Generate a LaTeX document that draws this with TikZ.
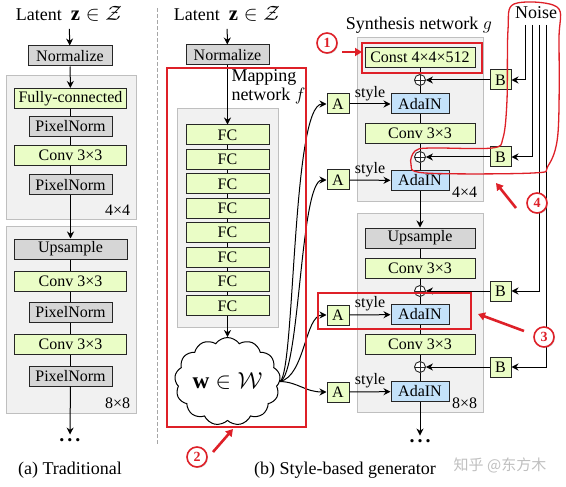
\RequirePackage{fix-cm}
\documentclass[tikz,border=0pt]{standalone}
\usepackage{amsmath}
\usepackage{graphicx}
\usepackage{fontspec}
\setmainfont{Liberation Serif}
\newfontfamily\cjkfont{Noto Sans CJK SC}
\usetikzlibrary{positioning,shapes.symbols,arrows.meta,shadows}

\definecolor{fcgreen}{RGB}{234,253,198}
\definecolor{adablue}{RGB}{196,226,250}
\definecolor{normgray}{RGB}{214,214,214}
\definecolor{panelgray}{RGB}{241,241,241}
\definecolor{markred}{RGB}{222,32,40}

\newcommand{\latentz}{\scalebox{1.15}{$\mathbf{z}\in\mathcal{Z}$}}
\newcommand{\latentw}{\scalebox{1.45}{$\mathbf{w}\in\mathcal{W}$}}

\tikzset{
  base/.style={draw=black!85, line width=1pt, inner sep=0pt, minimum height=20},
  normbox/.style={base, fill=normgray, minimum width=84},
  widebox/.style={base, fill=fcgreen, minimum width=112},
  fcbox/.style={base, fill=fcgreen, minimum width=83},
  adabox/.style={base, fill=adablue, minimum width=58},
  smallbox/.style={base, fill=fcgreen, minimum width=22},
  panel/.style={draw=black!25, fill=panelgray, line width=1pt},
  plus/.style={draw=black!85, fill=white, circle, line width=0.9pt, minimum size=11, inner sep=0pt,
    path picture={\draw[line width=0.8pt] (path picture bounding box.north) -- (path picture bounding box.south)
      (path picture bounding box.west) -- (path picture bounding box.east);}},
  bigtext/.style={font=\fontsize{18}{19.5}\selectfont},
  latent/.style={bigtext, inner ysep=7pt},
  dots/.style={font=\fontsize{20}{20}\selectfont\bfseries},
  redframe/.style={draw=markred, line width=2pt},
  redarrow/.style={markred, line width=2.6pt, -{Triangle[length=7pt,width=8pt]}},
  marknum/.style={circle, draw=markred, fill=white, line width=1.6pt, text=markred,
    font=\fontsize{14}{16}\selectfont\bfseries, minimum size=20, inner sep=0pt,
    drop shadow={opacity=0.3, shadow xshift=1pt, shadow yshift=-1pt}},
}

\begin{document}
\begin{tikzpicture}[x=1pt, y=-1pt, line width=1pt, >={Stealth[length=7pt,width=7pt]},
    every node/.style={font=\fontsize{16}{19}\selectfont}]
  \useasboundingbox (0,0) rectangle (566,487);

  % background panels
  \filldraw[panel] (6,76) rectangle (136,219);
  \filldraw[panel] (6,226) rectangle (136,413);
  \filldraw[panel] (177,109) rectangle (278,327);
  \filldraw[panel] (357,38) rectangle (483,202);
  \filldraw[panel] (357,213) rectangle (483,412);
  \draw[black!35, dash pattern=on 4pt off 2pt] (157,8) -- (157,445);

  % (a) traditional
  \node[latent] (latA) at (69,14) {Latent \ \latentz};
  \node[normbox] (normA) at (70,56) {Normalize};
  \node[widebox] (fcA) at (70.5,98.5) {Fully-connected};
  \node[normbox, minimum width=83] (pnA1) at (70.5,126.5) {PixelNorm};
  \node[widebox] (convA1) at (70.5,155.5) {Conv 3×3};
  \node[normbox, minimum width=83] (pnA2) at (70.5,185) {PixelNorm};
  \node[anchor=east] (resA1) at (134,210) {4×4};
  \node[normbox, minimum width=113] (upA) at (70.5,249) {Upsample};
  \node[widebox] (convA2) at (70.5,281.5) {Conv 3×3};
  \node[normbox, minimum width=83] (pnA3) at (70.5,312.5) {PixelNorm};
  \node[widebox] (convA3) at (70.5,344.5) {Conv 3×3};
  \node[normbox, minimum width=83] (pnA4) at (70.5,376) {PixelNorm};
  \node[anchor=east] (resA2) at (134,403) {8×8};
  \node[dots] (dotsA) at (70,440) {.\hspace{3pt}.\hspace{3pt}.};
  \node[bigtext] (capA) at (70,470) {(a) Traditional};

  \draw[->] (latA) -- (normA);
  \draw[->] (normA) -- (fcA);
  \draw (fcA) -- (pnA1) (pnA1) -- (convA1) (convA1) -- (pnA2);
  \draw[->] (pnA2) -- (upA);
  \draw (upA) -- (convA2) (convA2) -- (pnA3) (pnA3) -- (convA3) (convA3) -- (pnA4);
  \draw[->] (pnA4) -- (dotsA);

  % (b) mapping network
  \node[latent] (latB) at (227,14) {Latent \ \latentz};
  \node[normbox, minimum width=83] (normB) at (227.5,55) {Normalize};
  \node[bigtext, anchor=north west, align=left, inner sep=0pt] (mapT) at (231,69) {Mapping\\network $f$};
  \foreach \i in {1,...,8}
    \node[fcbox] (fc\i) at (227.5,110.6+24.4*\i) {FC};
  \node[cloud, draw, cloud puffs=13, cloud puff arc=110, aspect=1.27, fill=white,
        minimum width=100, minimum height=79, inner sep=0pt] (w) at (227.5,381.5) {\latentw};
  \node[smallbox] (A1) at (338,104) {A};
  \node[smallbox] (A2) at (338,180) {A};
  \node[smallbox] (A3) at (338,315) {A};
  \node[smallbox] (A4) at (338,392) {A};

  \draw[->] (latB) -- (normB);
  \draw[->] (normB) -- (fc1);
  \foreach \i [count=\j from 2] in {1,...,7}
    \draw (fc\i) -- (fc\j);
  \draw[->] (fc8) -- (w);
  \draw[->] (w.east) .. controls (295,372) and (292,104) .. (A1.west);
  \draw[->] (w.east) .. controls (300,374) and (300,180) .. (A2.west);
  \draw[->] (w.east) .. controls (305,376) and (305,315) .. (A3.west);
  \draw[->] (w.east) .. controls (298,382) and (305,392) .. (A4.west);

  % (b) synthesis network
  \node[bigtext] (synT) at (419,25) {Synthesis network $g$};
  \node[bigtext] (noiseT) at (536,13) {Noise};
  \node[widebox, minimum width=110] (const) at (420,57.5) {Const 4×4×512};
  \node[plus] (p1) at (420,80) {};
  \node[adabox] (ada1) at (420,104) {AdaIN};
  \node[widebox, minimum width=110] (convS1) at (420,133.5) {Conv 3×3};
  \node[plus] (p2) at (420,157) {};
  \node[adabox] (ada2) at (420,180.5) {AdaIN};
  \node[anchor=east] (resB1) at (481,192) {4×4};
  \node[normbox, minimum width=110] (upS) at (420,238) {Upsample};
  \node[widebox, minimum width=110] (convS2) at (420,268) {Conv 3×3};
  \node[plus] (p3) at (420,291) {};
  \node[adabox] (ada3) at (420,314.5) {AdaIN};
  \node[widebox, minimum width=110] (convS3) at (420,344.5) {Conv 3×3};
  \node[plus] (p4) at (420,367) {};
  \node[adabox] (ada4) at (420,391.5) {AdaIN};
  \node[anchor=east] (resB2) at (481,403) {8×8};
  \node[dots] (dotsB) at (420,441) {.\hspace{3pt}.\hspace{3pt}.};
  \node[bigtext] (capB) at (345,470) {(b) Style-based generator};
  \node[font=\cjkfont\fontsize{15}{16}\selectfont, text=black!25] (mark) at (500,465) {知乎 @东方木};

  \node[smallbox, minimum width=21] (B1) at (500.5,80) {B};
  \node[smallbox, minimum width=21] (B2) at (500.5,157) {B};
  \node[smallbox, minimum width=21] (B3) at (500.5,291) {B};
  \node[smallbox, minimum width=21] (B4) at (500.5,367) {B};
  \coordinate (nz1) at (525,25);
  \coordinate (nz2) at (532,25);
  \coordinate (nz3) at (539,25);
  \coordinate (nz4) at (546,25);

  \draw (const) -- (p1) (p1) -- (ada1) (ada1) -- (convS1) (convS1) -- (p2) (p2) -- (ada2);
  \draw[->] (ada2) -- (upS);
  \draw (upS) -- (convS2) (convS2) -- (p3) (p3) -- (ada3) (ada3) -- (convS3) (convS3) -- (p4) (p4) -- (ada4);
  \draw[->] (ada4) -- (dotsB);
  \draw[->] (A1) -- node[above=2pt, inner sep=1pt] {style} (ada1);
  \draw[->] (A2) -- node[above=2pt, inner sep=1pt] {style} (ada2);
  \draw[->] (A3) -- node[above=2pt, inner sep=1pt] {style} (ada3);
  \draw[->] (A4) -- node[above=2pt, inner sep=1pt] {style} (ada4);
  \draw[->] (B1) -- (p1);
  \draw[->] (B2) -- (p2);
  \draw[->] (B3) -- (p3);
  \draw[->] (B4) -- (p4);
  \draw[->] (nz1) |- (B1);
  \draw[->] (nz2) |- (B2);
  \draw[->] (nz3) |- (B3);
  \draw[->] (nz4) |- (B4);

  % red marks
  \draw[redframe] (362,43) rectangle (482,73);
  \draw[redframe] (167,68) rectangle (306,427);
  \draw[redframe] (318,293) rectangle (471,329);
  \draw[markred, line width=1.3pt] plot[smooth cycle, tension=0.55] coordinates
    {(514,4) (557,7) (559,40) (558,133) (548,166) (533,173) (425,173) (411,164)
     (415,151) (430,148) (492,148) (503,138) (507,100) (508,30)};
  \node[marknum] (m1) at (327,43) {1};
  \node[marknum] (m2) at (197,457) {2};
  \node[marknum] (m3) at (544,337) {3};
  \node[marknum] (m4) at (537,203) {4};
  \coordinate (m1a) at (342,52);
  \coordinate (m1b) at (362,52);
  \coordinate (m2a) at (213,452);
  \coordinate (m2b) at (233,429);
  \coordinate (m3a) at (524,331);
  \coordinate (m3b) at (478,314);
  \coordinate (m4a) at (516,208);
  \coordinate (m4b) at (496,183);
  \draw[redarrow] (m1a) -- (m1b);
  \draw[redarrow] (m2a) -- (m2b);
  \draw[redarrow] (m3a) -- (m3b);
  \draw[redarrow] (m4a) -- (m4b);
\end{tikzpicture}
\end{document}
